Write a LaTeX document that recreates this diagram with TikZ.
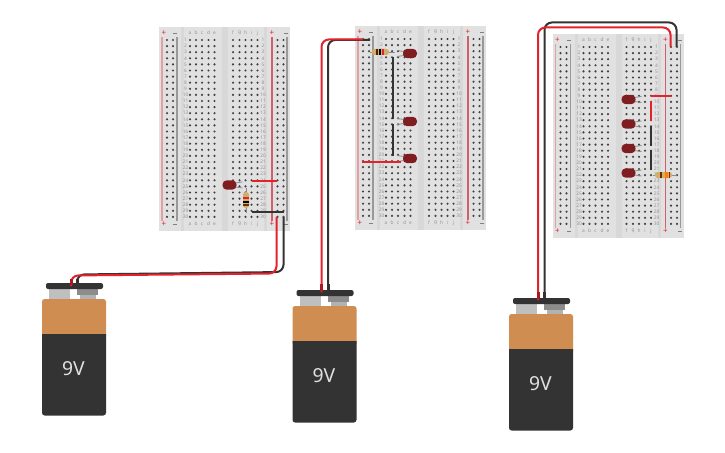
\documentclass[tikz,border=0pt]{standalone}
\usepackage{fontspec}
\setmainfont{Noto Sans}
\definecolor{boardbg}{HTML}{E1E1E1}
\definecolor{boardstrip}{HTML}{D8D8D8}
\definecolor{hole}{HTML}{404040}
\definecolor{railred}{HTML}{CF5F68}
\definecolor{wirered}{HTML}{E3222B}
\definecolor{wireblack}{HTML}{333333}
\definecolor{ledred}{HTML}{7F1D20}
\definecolor{restan}{HTML}{D0AE6C}
\definecolor{cell}{HTML}{D08D52}
\definecolor{celldark}{HTML}{333333}
\tikzset{
  wire/.style={line width=1.5pt, rounded corners=5.5},
  red wire/.style={wire, draw=wirered},
  black wire/.style={wire, draw=wireblack},
  lead/.style={draw=black!45, line width=.6pt},
  boardtxt/.style={font=\fontsize{3.6}{4}\selectfont, text=black!42, inner sep=0pt},
}
% breadboard, top left corner at #1,#2
\newcommand{\bboard}[2]{
\begin{scope}[shift={(#1,#2)}]
  \fill[boardbg] (0,0) rectangle (131,204);
  \fill[boardstrip] (22,0) rectangle (25,204);
  \fill[boardstrip] (63,0) rectangle (69,204);
  \fill[boardstrip] (105,0) rectangle (108,204);
  \draw[railred!60!white, line width=.9pt] (3,10) -- (3,194);
  \draw[black!40, line width=.9pt] (18,10) -- (18,194);
  \draw[railred, line width=.9pt] (113,10) -- (113,194);
  \draw[black!40, line width=.9pt] (128,10) -- (128,194);
  \foreach \r in {1,...,30}{
    \pgfmathsetmacro{\yy}{13+6.1*(\r-1)}
    \foreach \c in {8,14,31,37,43,49.5,55.5,74,80.5,86.5,92.5,98.5,118.5,124.5}
      \fill[hole] (\c,\yy) circle (1.2);
    \node[boardtxt] at (26.5,\yy) {\r};
    \node[boardtxt] at (104,\yy) {\r};
  }
  \foreach \yy in {6,197}{
    \foreach \c/\t in {31/a,37/b,43/c,49.5/d,55.5/e,74/f,80.5/g,86.5/h,92.5/i,98.5/j}
      \node[boardtxt] at (\c,\yy) {\t};
    \foreach \c in {5,113}
      \node[boardtxt, text=wirered, font=\fontsize{6}{6}\selectfont] at (\c,\yy) {+};
    \foreach \c in {16,127}
      \draw[black!50, line width=.5pt] (\c-2,\yy) -- (\c+2,\yy);
  }
\end{scope}
}
% 9V battery, top left corner of the body at #1,#2
\newcommand{\battery}[2]{
\begin{scope}[shift={(#1,#2)}]
  \fill[black!25] (7,-10) rectangle (28,0.5);
  \fill[black!30] (38,-5) rectangle (54,0.5);
  \fill[black!45] (35,-11) rectangle (56,-4);
  \fill[celldark, rounded corners=1.5] (4,-16) rectangle (61,-10);
  \fill[cell, rounded corners=2] (0,0) rectangle (64,40);
  \fill[celldark] (0,35) -- (64,35) [rounded corners=2] -- (64,116.5) -- (0,116.5) [sharp corners] -- cycle;
  \node[text=black!12, font=\fontsize{14.5}{15}\selectfont, inner sep=0pt] at (31.5,70) {9V};
\end{scope}
}
% LED lying on its side, body centre at #1,#2, leads to the left or right
\newcommand{\ledl}[2]{
  \draw[lead] (#1-6,#2-2) -- (#1-13,#2-3) (#1-6,#2+2) -- (#1-13,#2+3);
  \fill[ledred, rounded corners=3.2] (#1-7,#2-4.7) rectangle (#1+7,#2+4.7);
}
\newcommand{\ledr}[2]{
  \draw[lead] (#1+6,#2-2) -- (#1+13,#2-3) (#1+6,#2+2) -- (#1+13,#2+3);
  \fill[ledred, rounded corners=3.2] (#1-7,#2-4.7) rectangle (#1+7,#2+4.7);
}
\begin{document}
\begin{tikzpicture}[x=.75pt,y=-.75pt]
  \useasboundingbox (0,0) rectangle (725,453);
  \fill[white] (0,0) rectangle (725,453);

  \bboard{159}{27}
  \bboard{355}{26}
  \bboard{552.5}{34}

  \battery{42}{299}
  \battery{292.5}{306}
  \battery{509}{314}

  % first board
  \ledr{229.5}{185}
  \draw[red wire] (252,181) -- (277,181);
  \draw[black wire] (252,212) -- (283.5,212);
  \draw[lead] (246,188) -- (246,213);
  \fill[restan, rounded corners=2] (243,192) rectangle (249,208);
  \fill[wirered] (243,197) rectangle (249,199);
  \fill[black] (243,201) rectangle (249,202.5);
  \fill[black!60!orange] (243,204) rectangle (249,206);
  \draw[black wire] (77,286) -- (77,274.5) -- (283.5,272) -- (283.5,217);
  \draw[red wire] (71,286) -- (71,275.5) -- (276.5,273.5) -- (276.5,217);
  \fill[wireblack] (75.5,279) rectangle (78.5,285);
  \fill[wirered!75!black] (69.5,279) rectangle (72.5,285);

  % second board
  \draw[black wire] (328,292) -- (328,40) -- (370,40);
  \draw[red wire] (321.5,292) -- (321.5,39.5) -- (363,39.5);
  \fill[wireblack] (326.5,284) rectangle (329.5,291);
  \fill[wirered!75!black] (320,284) rectangle (323,291);
  \draw[lead] (370,52) -- (395,52);
  \fill[restan, rounded corners=2] (372,49) rectangle (389,55);
  \fill[black!70!orange] (376,49) rectangle (378,55);
  \fill[black] (379,49) rectangle (380.5,55);
  \fill[wirered] (381.5,49) rectangle (384,55);
  \ledl{410}{53.5}
  \ledl{410}{121.5}
  \ledl{410}{158.5}
  \draw[black wire] (393,57) -- (393,119);
  \draw[black wire] (393,124) -- (393,156);
  \draw[red wire] (362,162) -- (401,162);

  % third board
  \draw[black wire] (544.5,300) -- (544.5,22.5) -- (676.5,22.5) -- (676.5,47);
  \draw[red wire] (538,300) -- (538,27.5) -- (670.5,27.5) -- (670.5,47);
  \fill[wireblack] (543,292) rectangle (546,299);
  \fill[wirered!75!black] (536.5,292) rectangle (539.5,299);
  \ledr{628.5}{99.5}
  \ledr{628.5}{124}
  \ledr{628.5}{148.5}
  \ledr{628.5}{173}
  \draw[red wire] (651,96) -- (671,96);
  \draw[red wire] (651,101) -- (651,121);
  \draw[black wire] (651,126) -- (651,146);
  \draw[black wire] (651,150) -- (651,170);
  \draw[lead] (653,175) -- (677,175);
  \fill[restan, rounded corners=2] (655,172) rectangle (672,178);
  \fill[black!60!orange] (660,172) rectangle (662,178);
  \fill[orange] (665,172) rectangle (667.5,178);
  \fill[wirered!70!black] (668.5,172) rectangle (669.5,178);
\end{tikzpicture}
\end{document}
